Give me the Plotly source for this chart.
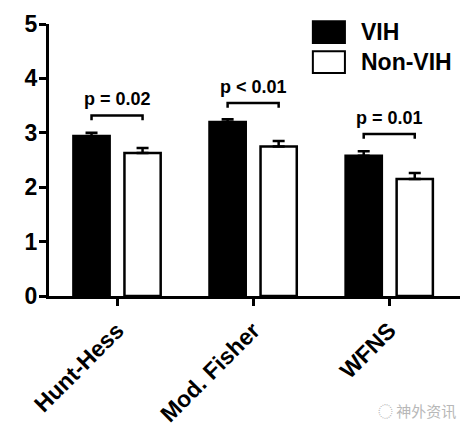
import plotly.graph_objects as go

categories = ["Hunt-Hess", "Mod. Fisher", "WFNS"]
series_names = ["VIH", "Non-VIH"]
vih_values = [2.94, 3.20, 2.58]
vih_errors = [0.06, 0.05, 0.08]
non_vih_values = [2.63, 2.75, 2.15]
non_vih_errors = [0.09, 0.10, 0.11]
p_labels = ["p = 0.02", "p < 0.01", "p = 0.01"]
bracket_levels = [3.32, 3.55, 2.98]
y_ticks = [0, 1, 2, 3, 4, 5]

FONT = "Arial, Liberation Sans, sans-serif"
BAR_LINE = dict(color="black", width=2.5)

fig = go.Figure()

fig.add_trace(go.Bar(
    x=categories, y=vih_values, name=series_names[0],
    marker=dict(color="black", line=BAR_LINE),
    error_y=dict(type="data", array=vih_errors, arrayminus=[0] * 3,
                 symmetric=False, color="black", thickness=2.5, width=6),
))
fig.add_trace(go.Bar(
    x=categories, y=non_vih_values, name=series_names[1],
    marker=dict(color="white", line=BAR_LINE),
    error_y=dict(type="data", array=non_vih_errors, arrayminus=[0] * 3,
                 symmetric=False, color="black", thickness=2.5, width=6),
))

# significance brackets between the two bars of each group
offset = 0.1875
for i, level in enumerate(bracket_levels):
    fig.add_trace(go.Scatter(
        x=[i - offset, i - offset, i + offset, i + offset],
        y=[level - 0.09, level, level, level - 0.09],
        mode="lines", line=dict(color="black", width=2.5),
        hoverinfo="skip", showlegend=False, xaxis="x2",
    ))
    fig.add_annotation(
        x=i, y=level + 0.08, xref="x2", yref="y", text=p_labels[i],
        showarrow=False, yanchor="bottom",
        font=dict(family=FONT, size=18, color="black", weight="bold"),
    )

# legend drawn by hand to get the large swatches
legend_rows = [(series_names[0], "black", 0.97), (series_names[1], "white", 0.86)]
for name, colour, yc in legend_rows:
    fig.add_shape(type="rect", xref="paper", yref="paper",
                  x0=0.642, x1=0.72, y0=yc - 0.04, y1=yc + 0.04,
                  fillcolor=colour, line=dict(color="black", width=2))
    fig.add_annotation(x=0.755, y=yc, xref="paper", yref="paper", text=name,
                       showarrow=False, xanchor="left", yanchor="middle",
                       font=dict(family=FONT, size=23, color="black", weight="bold"))

# watermark
fig.add_annotation(x=0.995, y=-0.42, xref="paper", yref="paper", text="◌ 神外资讯",
                   showarrow=False, xanchor="right", yanchor="middle",
                   font=dict(family="Noto Sans CJK SC", size=15, color="#b8b8b8"))

# the page body adds an 8px offset, so margins are shifted to compensate
fig.update_layout(
    width=474, height=434,
    margin=dict(l=41, r=22, t=16, b=146, autoexpand=False),
    plot_bgcolor="white", paper_bgcolor="white",
    showlegend=False,
    barmode="group", bargap=0.25, bargroupgap=0.29,
    xaxis=dict(range=[-0.5, 2.52], showline=True, linecolor="black", linewidth=3,
               ticks="outside", ticklen=7, tickwidth=2.5, tickcolor="black",
               tickangle=-45, showgrid=False, zeroline=False, automargin=False,
               ticklabelstandoff=2,
               tickfont=dict(family=FONT, size=23, color="black", weight="bold")),
    xaxis2=dict(range=[-0.5, 2.52], overlaying="x", visible=False),
    yaxis=dict(range=[0, 5], tickvals=y_ticks, showline=True, linecolor="black",
               linewidth=3, ticks="outside", ticklen=7, tickwidth=2.5,
               tickcolor="black", showgrid=False, zeroline=False, automargin=False,
               ticklabelstandoff=-3,
               tickfont=dict(family=FONT, size=23, color="black", weight="bold")),
)

fig.write_html("out.html")
